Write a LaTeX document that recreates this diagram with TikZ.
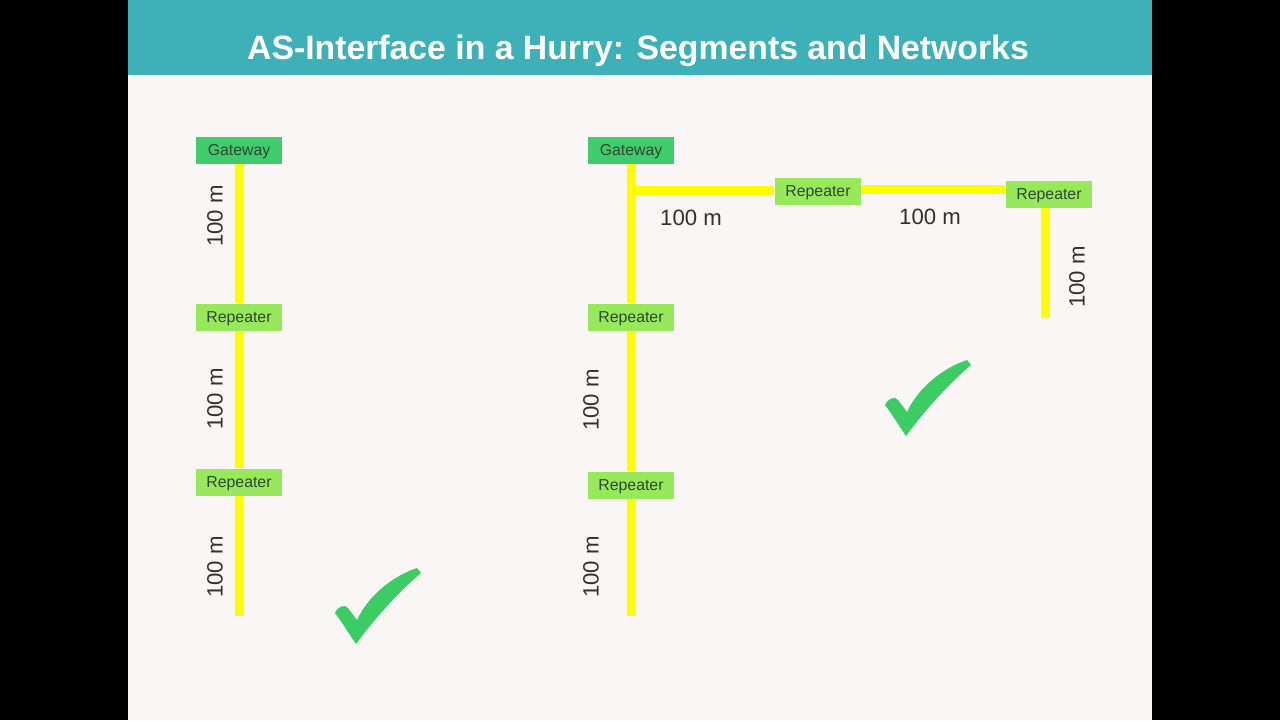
\documentclass[tikz,border=0pt]{standalone}
\usepackage{fontspec}
\setmainfont{Liberation Sans}
\definecolor{slidebg}{RGB}{250,246,246}
\definecolor{headbar}{RGB}{62,176,184}
\definecolor{gatefill}{RGB}{64,204,108}
\definecolor{repfill}{RGB}{152,232,92}
\definecolor{boxtext}{RGB}{44,72,48}
\definecolor{labeltext}{RGB}{48,48,48}
\definecolor{cableyellow}{RGB}{255,252,0}
\definecolor{tickgreen}{RGB}{60,204,100}

\tikzset{
  gatebox/.style={fill=gatefill, text=boxtext, minimum width=0.86cm, minimum height=0.27cm,
    inner sep=0pt, text depth=0pt, font=\fontsize{4.5}{5}\selectfont},
  repbox/.style={gatebox, fill=repfill},
  cable/.style={cableyellow, line width=2.56pt},
  lenlabel/.style={text=labeltext, inner sep=0pt, font=\fontsize{6.3}{7}\selectfont},
  tick/.pic={
    \fill[tickgreen] (335,613) .. controls (338,606) and (345,604) .. (348,608)
      -- (357,620) .. controls (367,598) and (390,577) .. (417,568)
      -- (421,573) .. controls (403,588) and (378,614) .. (356,644)
      .. controls (349,634) and (342,622) .. cycle;
  }
}

\begin{document}
\begin{tikzpicture}[x=0.01cm, y=-0.01cm]
        \useasboundingbox (0,0) rectangle (1280,720);
        \fill[black] (0,0) rectangle (1280,720);
        \fill[slidebg] (128,0) rectangle (1152,720);
        \fill[headbar] (128,0) rectangle (1152,75);
        \node[white, font=\fontsize{9.6}{11}\selectfont\bfseries] (title) at (638,51) {AS-Interface in a Hurry: Segments and Networks};

        % single segment
        \node[gatebox] (gw1) at (239,150) {Gateway};
        \node[repbox] (rep1) at (239,317) {Repeater};
        \node[repbox] (rep2) at (239,482) {Repeater};
        \coordinate (end1) at (239,616);

        \draw[cable] (gw1) -- (rep1);
        \draw[cable] (rep1) -- (rep2);
        \draw[cable] (rep2) -- (end1);

        \node[lenlabel, rotate=90] (len1) at (215,216) {100 m};
        \node[lenlabel, rotate=90] (len2) at (215,399) {100 m};
        \node[lenlabel, rotate=90] (len3) at (215,567) {100 m};

        \pic at (0,0) {tick};

        % network
        \node[gatebox] (gw2) at (631,150) {Gateway};
        \node[repbox] (rep3) at (631,317) {Repeater};
        \node[repbox] (rep4) at (631,485) {Repeater};
        \node[repbox] (rep5) at (818,191) {Repeater};
        \node[repbox] (rep6) at (1049,194) {Repeater};
        \coordinate (end2) at (631,616);
        \coordinate (jn) at (631,190);
        \coordinate (end3) at (1045,318);

        \draw[cable] (gw2) -- (rep3);
        \draw[cable] (rep3) -- (rep4);
        \draw[cable] (rep4) -- (end2);
        \draw[cable] (jn) -- (jn -| rep5.west);
        \draw[cable] (rep5.east |- 0,189) -- (rep6.west |- 0,189);
        \draw[cable] (rep6.south -| end3) -- (end3);

        \node[lenlabel] (len4) at (691,218) {100 m};
        \node[lenlabel] (len5) at (930,217) {100 m};
        \node[lenlabel, rotate=90] (len6) at (1077,277) {100 m};
        \node[lenlabel, rotate=90] (len7) at (591,400) {100 m};
        \node[lenlabel, rotate=90] (len8) at (591,567) {100 m};

        \pic at (550,-208) {tick};
\end{tikzpicture}
\end{document}
